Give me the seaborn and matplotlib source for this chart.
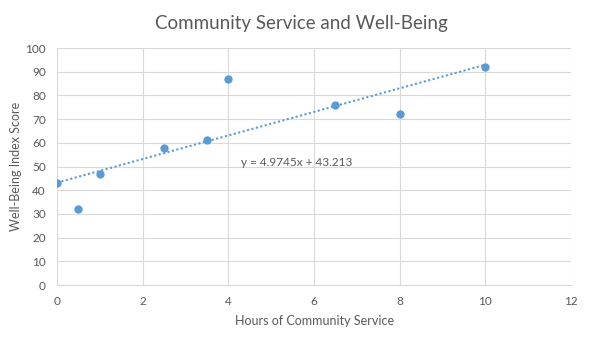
import matplotlib
matplotlib.use("Agg")
import matplotlib.pyplot as plt
import numpy as np
import seaborn as sns

# hours of community service vs well-being score
hours = [0, 0.5, 1, 2.5, 3.5, 4, 6.5, 8, 10]
scores = [43, 32, 47, 58, 61, 87, 76, 72, 92]
x_ticks = [0, 2, 4, 6, 8, 10, 12]
y_ticks = [0, 10, 20, 30, 40, 50, 60, 70, 80, 90, 100]
trend_label = "y = 4.9745x + 43.213"

sns.set_theme(style="white")
plt.rcParams["font.family"] = ["Lato", "DejaVu Sans"]

text_color = "#595959"
grid_color = "#D9D9D9"
dot_color = "#5B9BD5"

fig = plt.figure(figsize=(6.02, 3.43), dpi=100)
ax = fig.add_axes([0.0947, 0.169, 0.854, 0.691])

sns.regplot(
    x=hours, y=scores, ax=ax, ci=None, scatter=False,
    line_kws={"color": dot_color, "linestyle": (0, (1, 1.2)), "linewidth": 1.5},
)
sns.scatterplot(x=hours, y=scores, ax=ax, color=dot_color, s=36,
                edgecolor=dot_color, linewidth=0, zorder=3)

ax.set_xlim(0, 12)
ax.set_ylim(0, 100)
ax.set_xticks(x_ticks)
ax.set_yticks(y_ticks)
ax.grid(True, color=grid_color, linewidth=0.8)
ax.set_axisbelow(True)
for side in ["top", "right", "left"]:
    ax.spines[side].set_visible(False)
ax.spines["bottom"].set_color(grid_color)
ax.spines["bottom"].set_linewidth(0.8)
ax.tick_params(axis="both", length=0, labelsize=8.5, colors=text_color)
ax.tick_params(axis="x", pad=8)
ax.tick_params(axis="y", pad=8)

ax.set_xlabel("Hours of Community Service", fontsize=9, color=text_color, labelpad=6)
ax.set_ylabel("Well-Being Index Score", fontsize=9, color=text_color, labelpad=2)
fig.suptitle("Community Service and Well-Being", fontsize=13.5, color=text_color,
             y=0.955)

ax.text(4.3, 51.5, trend_label, fontsize=8.5, color=text_color,
        ha="left", va="center")

fig.savefig("out.png", dpi=100)
